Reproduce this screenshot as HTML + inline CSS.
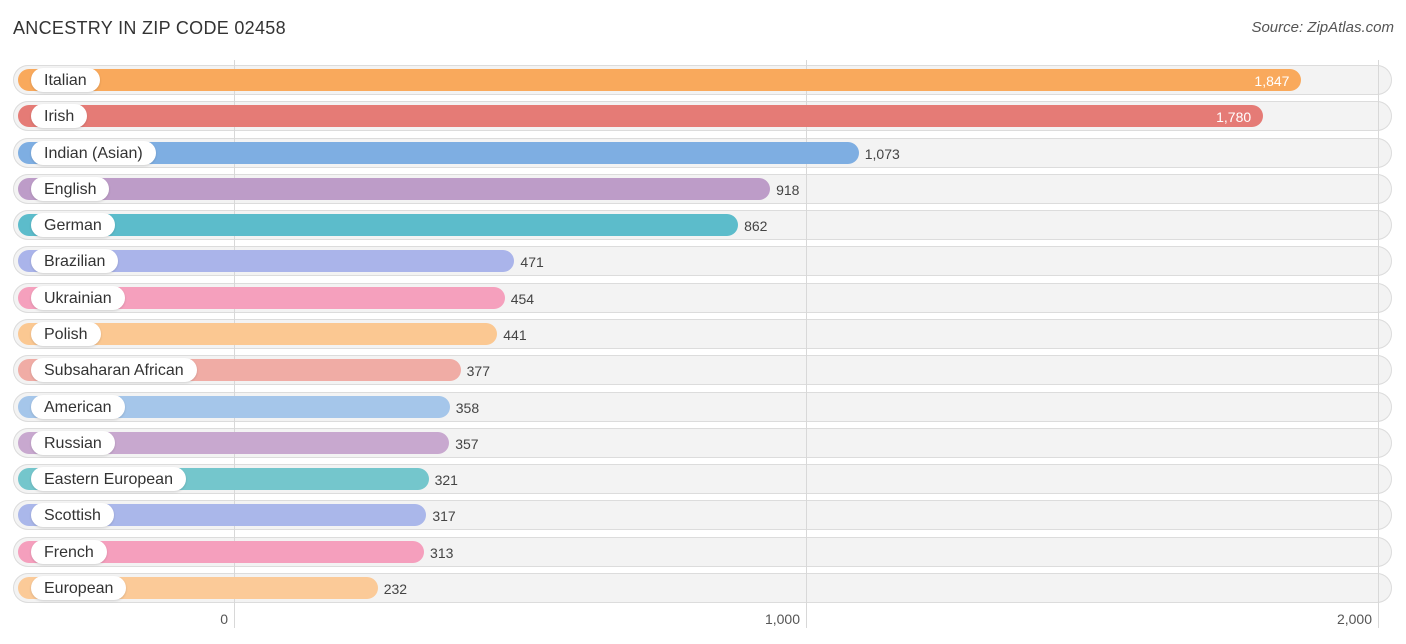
<!DOCTYPE html>
<html><head><meta charset="utf-8"><style>
body{margin:0;background:#fff;font-family:"Liberation Sans",sans-serif;}
#wrap{position:relative;width:1406px;height:644px;overflow:hidden;}
.title{position:absolute;left:13px;top:18px;font-size:18px;color:#333;letter-spacing:0.3px}
.src{position:absolute;right:12px;top:19px;font-size:15px;color:#555;font-style:italic}
.grid{position:absolute;top:60px;height:568px;width:1px;background:#d8d8d8}
.tick{position:absolute;top:611px;font-size:14px;color:#555;transform:translateX(-100%)}
.row{position:absolute;left:13px;width:1379px;height:30px;border-radius:15px;background:#f3f3f3;box-shadow:inset 0 0 0 1px #dcdcdc}
.bar{position:absolute;left:18px;height:22px;border-radius:11px}
.lbl{position:absolute;left:31px;height:24px;line-height:25px;border-radius:12px;background:#fff;padding:0 13px;font-size:16px;color:#333;box-shadow:0 1px 2px rgba(0,0,0,0.15)}
.val{position:absolute;font-size:14px;line-height:22px;color:#444}
.val.in{color:#fff}
</style></head><body>
<div id="wrap">
<div class="title">ANCESTRY IN ZIP CODE 02458</div>
<div class="src">Source: ZipAtlas.com</div>
</div>
<script>
const categories=["Italian","Irish","Indian (Asian)","English","German","Brazilian","Ukrainian","Polish","Subsaharan African","American","Russian","Eastern European","Scottish","French","European"];
const values=[1847,1780,1073,918,862,471,454,441,377,358,357,321,317,313,232];
const colors=["#f9a95c","#e57b76","#7eaee2","#bd9cc8","#5cbccb","#aab4ea","#f5a0bd","#fbc892","#f0aca5","#a5c6ea","#c8a8cf","#74c6cc","#aab7ea","#f59fbd","#fbca98"];
const tickValues=[0,1000,2000];
const tickLabels=["0","1,000","2,000"];
const wrap=document.getElementById('wrap');
const x0=234,scale=0.572;
function xs(v){return x0+v*scale;}
categories.forEach((c,i)=>{
 const cy=80+i*36.29;
 const r=document.createElement('div');r.className='row';r.style.top=(cy-15)+'px';
 
 
 wrap.appendChild(r);
});
tickValues.forEach((t,i)=>{
 const g=document.createElement('div');g.className='grid';g.style.left=xs(t)+'px';
 
 
 wrap.appendChild(g);
});
categories.forEach((c,i)=>{
 const cy=80+i*36.29;
 const end=xs(values[i])+11;
 const b=document.createElement('div');b.className='bar';b.style.top=(cy-11)+'px';b.style.width=(end-18)+'px';b.style.background=colors[i];
 
 
 wrap.appendChild(b);
 const l=document.createElement('div');l.className='lbl';l.style.top=(cy-12)+'px';l.textContent=c;
 
 
 wrap.appendChild(l);
 const v=document.createElement('div');v.className='val';v.style.top=(cy-10)+'px';
 v.textContent=values[i].toLocaleString('en-US');
 
 
 if(values[i]>1500){v.classList.add('in');v.style.left=(end-12)+'px';v.style.transform='translateX(-100%)';}
 else v.style.left=(end+6)+'px';
 wrap.appendChild(v);
});
tickValues.forEach((t,i)=>{
 const k=document.createElement('div');k.className='tick';k.style.left=(xs(t)-6)+'px';k.textContent=tickLabels[i];
 
 
 wrap.appendChild(k);
});
</script>
</body></html>
